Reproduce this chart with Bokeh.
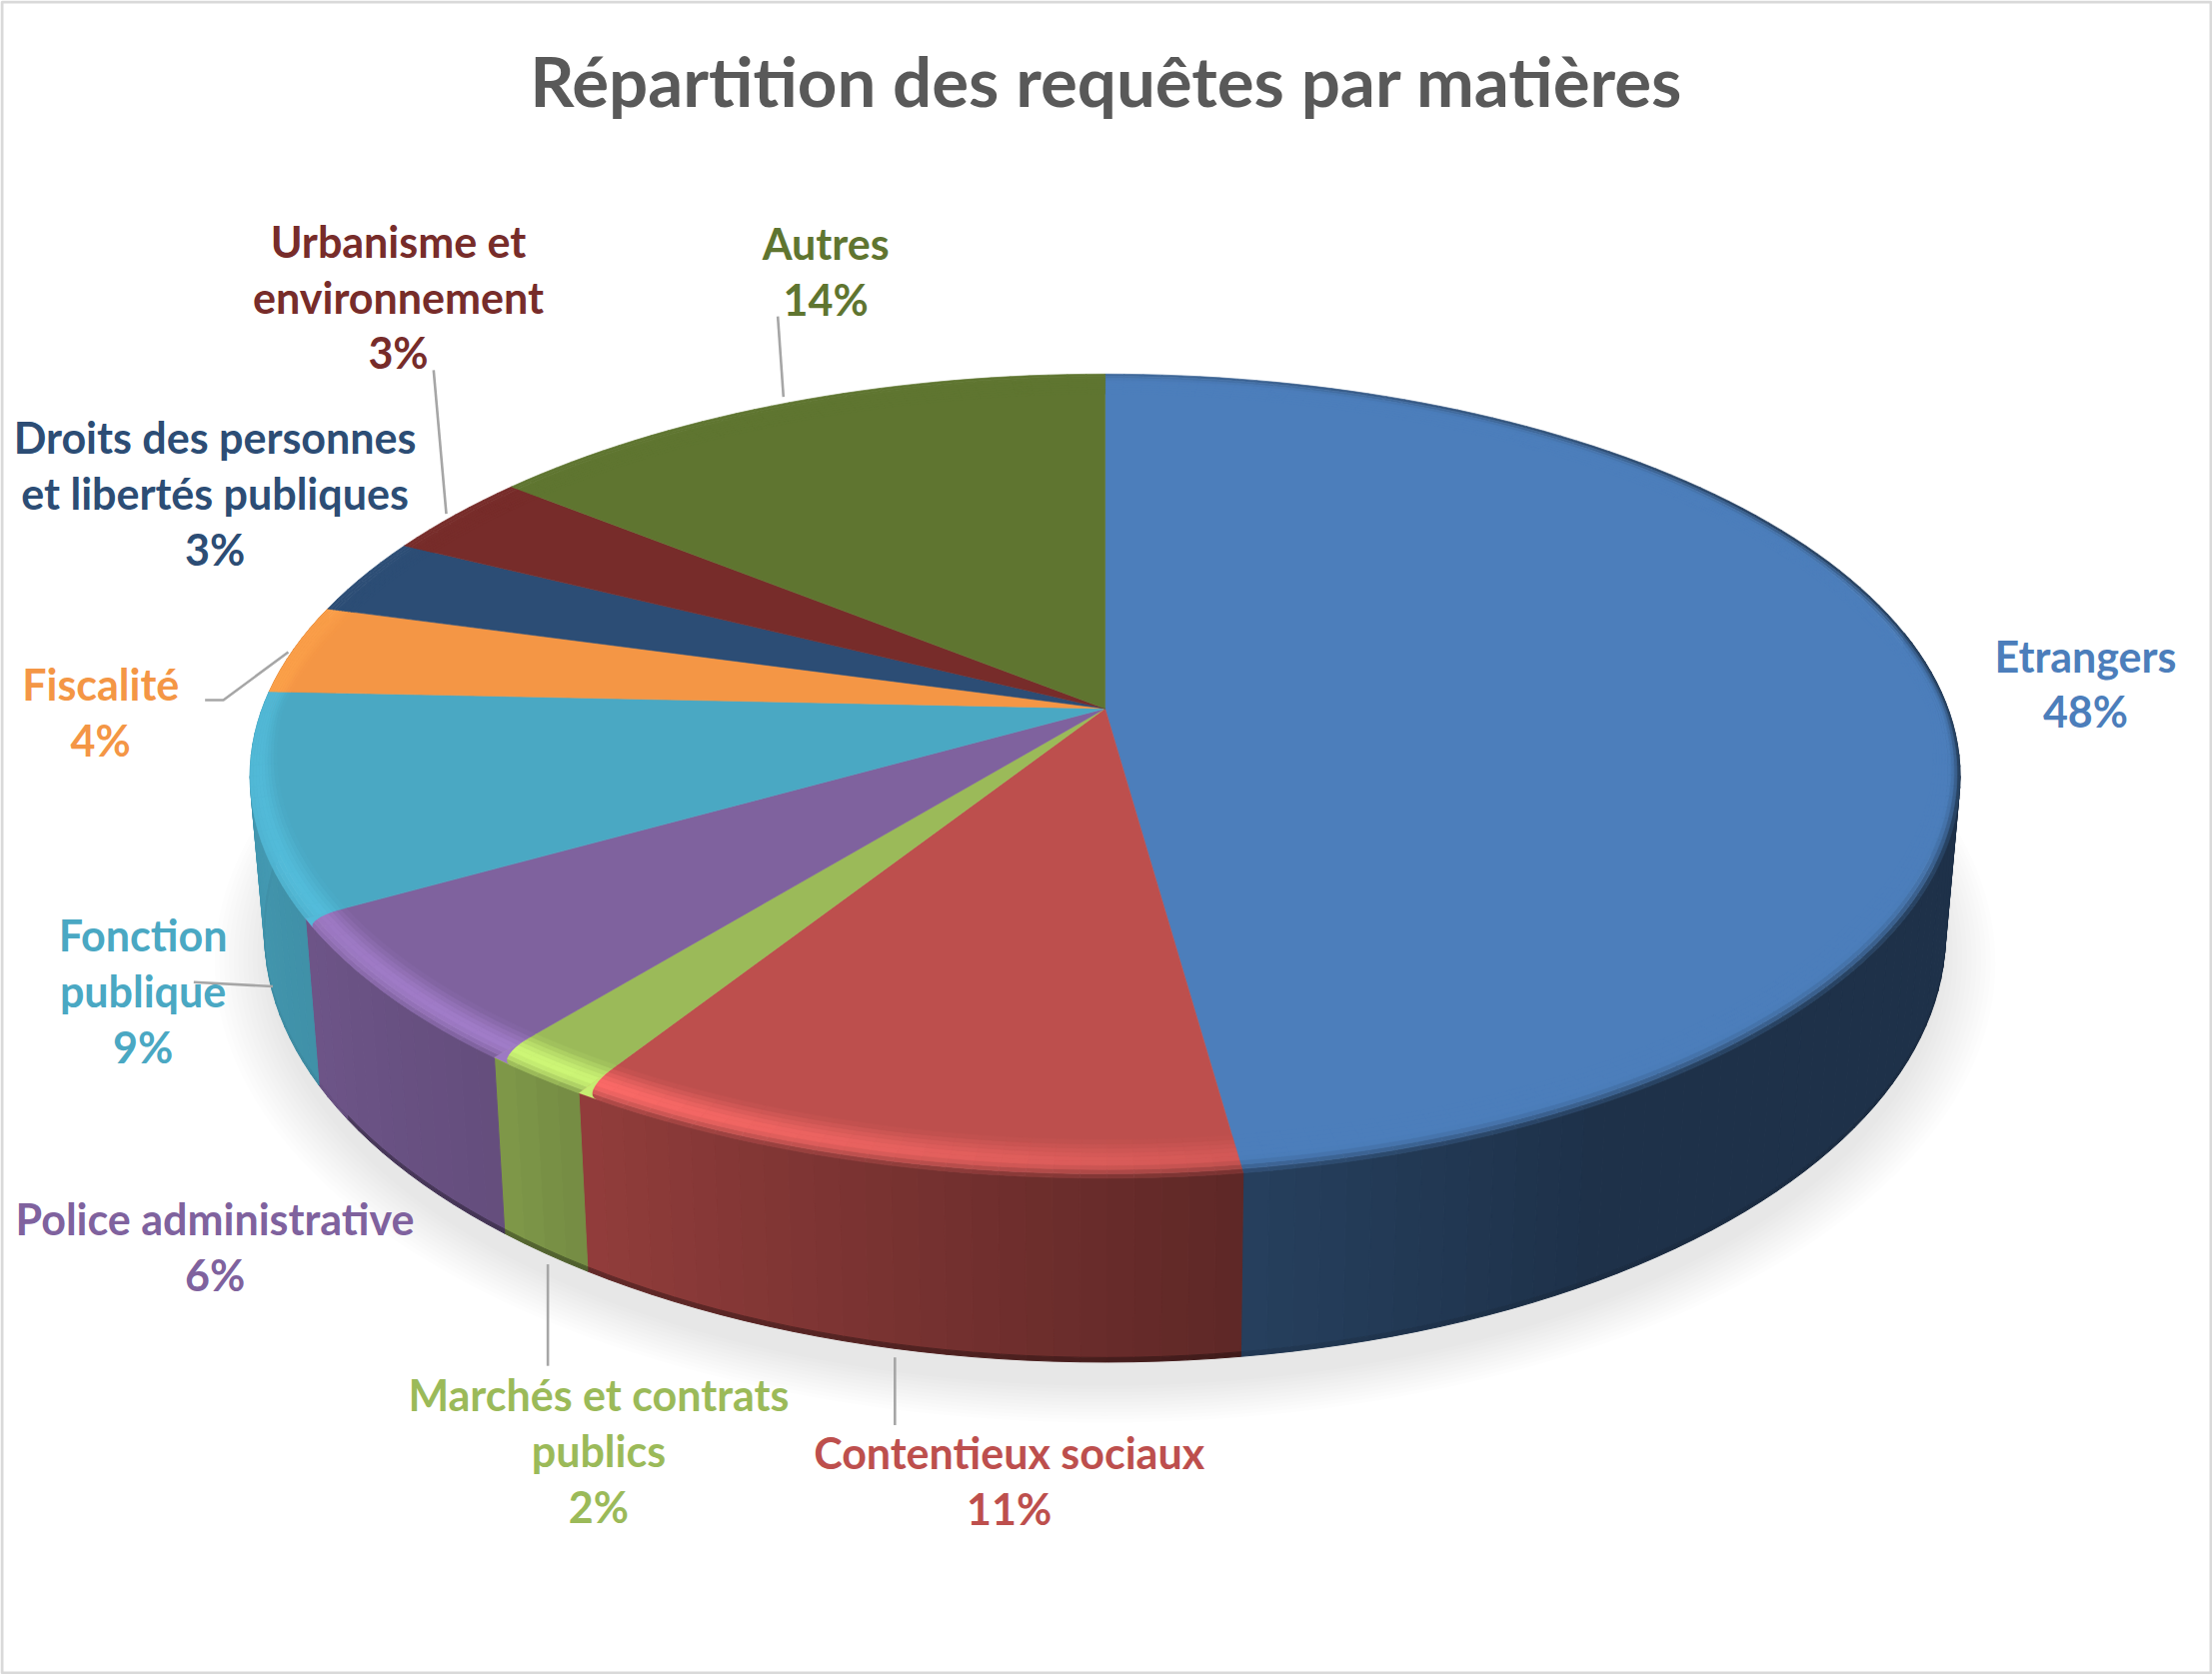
import numpy as np
from bokeh.plotting import figure
from bokeh.models import Range1d
from bokeh.core.properties import value as bv
from bokeh.embed import file_html
from bokeh.resources import INLINE

# ---- data -------------------------------------------------------------
categories = ["Etrangers", "Contentieux sociaux", "Marchés et contrats publics",
              "Police administrative", "Fonction publique", "Fiscalité",
              "Droits des personnes et libertés publiques",
              "Urbanisme et environnement", "Autres"]
shares = [47.82, 11.18, 1.85, 5.95, 8.9, 3.6, 3.1, 3.4, 14.2]
percent_labels = ["48%", "11%", "2%", "6%", "9%", "4%", "3%", "3%", "14%"]
colors = ["#4C7EBB", "#BD4F4D", "#9BBA59", "#7F629E", "#4AA8C3",
          "#F49645", "#2C4D75", "#772C2A", "#5F7530"]
label_lines = [["Etrangers"], ["Contentieux sociaux"], ["Marchés et contrats", "publics"],
               ["Police administrative"], ["Fonction", "publique"], ["Fiscalité"],
               ["Droits des personnes", "et libertés publiques"],
               ["Urbanisme et", "environnement"], ["Autres"]]
title = "Répartition des requêtes par matières"

# ---- layout (pixels of the 2213 x 1675 picture) -------------------------
S = 2213 / 1568
label_x = [1478, 715, 424, 152, 101, 71, 152, 282, 585]
label_y = [464.5, 1029.5, 988.5, 863.5, 662.5, 484.5, 309.5, 170.5, 172.5]
LINE = 39.6
leaders = [([551, 555], [224, 281]), ([307, 316], [262, 364]),
           ([145, 158, 204], [496, 496, 462]), ([137, 193], [696, 699]),
           ([388, 388], [896, 968]), ([634, 634], [962, 1010])]
CX, AY = 783 * S, 502 * S
A, B, K, H, SHR = 597.5 * S, 277 * S, 0.168, 108.5 * S, 0.017


def proj(theta, r=1.0, z=0.0):
    t = np.radians(theta)
    u, v = r * np.sin(t), r * np.cos(t)
    w = 1 + K * v
    return CX + A * u / w * (1 - SHR * z), AY - B * v / w + z * H / w


def bevel(theta):
    return 0.024 + 0.045 * np.abs(np.cos(np.radians(theta)))


def rgb(c):
    return np.array([int(c[i:i + 2], 16) for i in (1, 3, 5)], float)


def hexc(a):
    a = np.clip(np.round(a), 0, 255).astype(int)
    return "#%02x%02x%02x" % tuple(a)


def ramp(x, a, b):
    return float(np.clip((x - a) / (b - a), 0, 1))


edges = 3.6 * np.concatenate([[0], np.cumsum(shares)])

wall_shade = [(0.39, 0.50), (0.50, 0.77), (0.75, 0.82), (0.79, 0.86), (0.86, 0.92),
              (0.8, 0.8), (0.8, 0.8), (0.8, 0.8), (0.8, 0.8)]
rim_gain = [1.0, 1.36, 1.33, 1.27, 1.14, 1.1, 1.0, 1.0, 1.0]


def wall_factor(i, theta):
    a0, a1 = edges[i], edges[i + 1]
    if i == 0:
        return wall_shade[0][0] + (wall_shade[0][1] - wall_shade[0][0]) * ramp(theta, 150, a1)
    return wall_shade[i][0] + (wall_shade[i][1] - wall_shade[i][0]) * (theta - a0) / (a1 - a0)


p = figure(width=2213, height=1675, output_backend="svg", toolbar_location=None,
           x_range=Range1d(0, 2213), y_range=Range1d(1675, 0),
           min_border=0, outline_line_color=None, background_fill_color="white")
p.axis.visible = False
p.grid.visible = False

# frame of the picture
p.quad(left=[1.5], right=[2211.5], top=[1.5], bottom=[1673.5], fill_color=None,
       line_color="#D9D9D9", line_width=3)

# soft shadow under the disc
theta_all = np.linspace(0, 360, 241)
for r in np.linspace(1.06, 1.0, 12):
    x, y = proj(theta_all, r, 1.13)
    p.patch(x, y, fill_color="black", fill_alpha=0.0095, line_color=None)

# side wall
wx, wy, wc = [], [], []
STEP = 1.5
for i, c in enumerate(colors):
    a0, a1 = edges[i], edges[i + 1]
    n = max(1, int((a1 - a0) / STEP))
    th = np.linspace(a0, a1, n + 1)
    for j in range(n):
        ta, tb = th[j], th[j + 1]
        if tb < 80 or ta > 285:
            continue
        f = wall_factor(i, (ta + tb) / 2)
        x1, y1 = proj(np.array([ta, tb]), 1, 0)
        x2, y2 = proj(np.array([tb, ta]), 1, 0.975)
        wx.append(list(x1) + list(x2)); wy.append(list(y1) + list(y2))
        wc.append(hexc(rgb(c) * f))
        x3, y3 = proj(np.array([tb, ta]), 1, 1)
        wx.append(list(x2[::-1]) + list(x3)); wy.append(list(y2[::-1]) + list(y3))
        edge = 0.9 if i == 0 else (0.68 if 100 < ta < 235 else 0.95)
        wc.append(hexc(rgb(c) * f * edge))
p.patches(wx, wy, fill_color=wc, line_color=wc, line_width=1)

# top face
for i, c in enumerate(colors):
    th = np.linspace(edges[i], edges[i + 1], max(2, int((edges[i + 1] - edges[i]) / STEP) + 1))
    x, y = proj(th, 0.985)
    p.patch([CX] + list(x), [AY] + list(y), fill_color=c, line_color=c, line_width=0.6)


# rounded rim of the top face
def rim_color(i, theta, t):
    base = rgb(colors[i])
    wall = base * wall_factor(i, theta)
    hi = np.minimum(base * rim_gain[i], 255)
    h = ramp(theta, 150, 215) * (1 - 0.35 * ramp(theta, 225, 270)) * (1 - ramp(theta, 275, 305))
    if i == 0:
        h = 0
    d = (0.35 + 0.65 * ramp(theta, 0, 60)) * (1 - ramp(theta, 205, 262)) if theta < 262 else 0
    peak = base + (hi - base) * h
    if t < 0.45:
        s = 1 - t / 0.45
        return peak + (wall - peak) * d * s * s
    return peak + (base - peak) * ((t - 0.45) / 0.55) ** 1.2


rx, ry, rc = [], [], []
RINGS = 9
for i, c in enumerate(colors):
    a0, a1 = edges[i], edges[i + 1]
    n = max(1, int((a1 - a0) / STEP))
    th = np.linspace(a0, a1, n + 1)
    for j in range(n):
        mid = (th[j] + th[j + 1]) / 2
        pair = np.array([th[j], th[j + 1]])
        for q in range(RINGS):
            x1, y1 = proj(pair, 1 - bevel(pair) * q / RINGS)
            x2, y2 = proj(pair[::-1], 1 - bevel(pair[::-1]) * (q + 1) / RINGS)
            rx.append(list(x1) + list(x2)); ry.append(list(y1) + list(y2))
            rc.append(hexc(rim_color(i, mid, (q + .5) / RINGS)))
p.patches(rx, ry, fill_color=rc, line_color=rc, line_width=0.7)

# rounded corners where a front slice meets the next one
for i in (1, 2, 3):
    a1 = edges[i + 1]
    phi = np.radians(np.linspace(0, 90, 10))
    dl = 1.3
    th = a1 - dl * (1 - np.sin(phi))
    rr = 1 - bevel(a1) * 0.95 * (1 - np.cos(phi))
    x, y = proj(th, rr)
    xc, yc = proj(np.array([a1]), 1.0)
    col = hexc(rim_color(i + 1, a1, 0.55))
    p.patch(list(x) + [xc[0]], list(y) + [yc[0]], fill_color=col, line_color=None)

# leader lines
p.multi_line([[v * S for v in l[0]] for l in leaders],
             [[v * S for v in l[1]] for l in leaders],
             line_color="#A6A6A6", line_width=2.6)

# texts
tx, ty, tt, tc = [], [], [], []
for i, lines in enumerate(label_lines):
    for k, s in enumerate(lines + [percent_labels[i]]):
        tx.append(label_x[i] * S); ty.append((label_y[i] + k * LINE) * S)
        tt.append(s); tc.append(colors[i])
p.text(tx, ty, text=tt, text_color=tc, text_align="center", text_baseline="middle",
       text_font=bv("Lato"), text_font_style="bold", text_font_size="43px")
p.text([784 * S], [57 * S], text=[title], text_color="#595959", text_align="center",
       text_baseline="middle", text_font=bv("Lato"), text_font_style="bold",
       text_font_size="69px")

open("out.html", "w").write(file_html(p, INLINE))
